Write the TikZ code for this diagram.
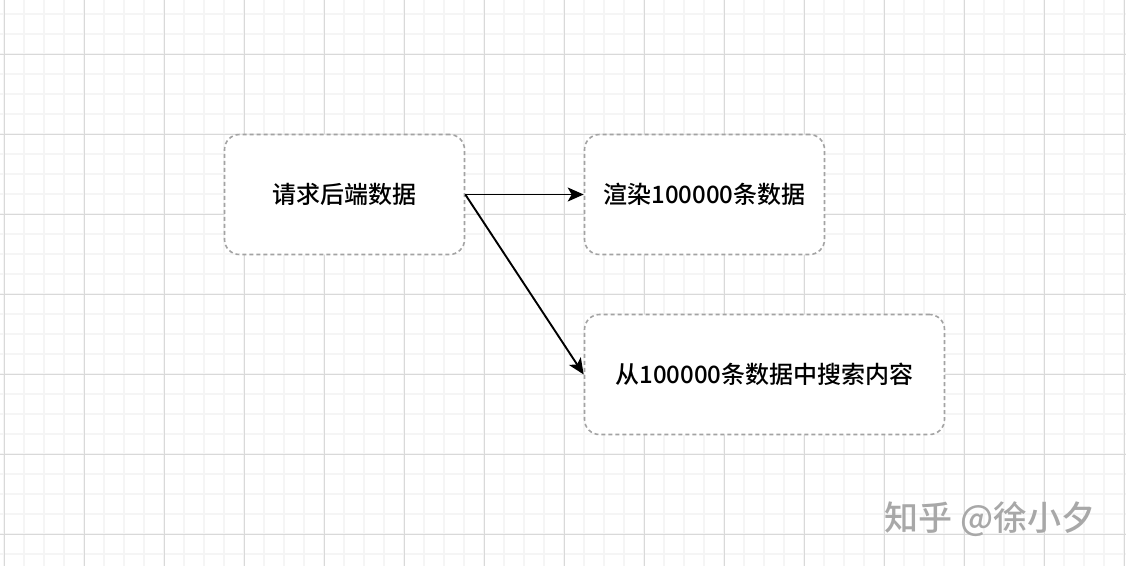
\documentclass[tikz,border=0pt]{standalone}
\usepackage{fontspec}
\newfontfamily\cjk{Noto Sans CJK SC}
\newfontfamily\cjkmid{Noto Sans CJK SC Medium}
\usetikzlibrary{arrows.meta,positioning}
\definecolor{minorgrid}{HTML}{F5F5F5}
\definecolor{majorgrid}{HTML}{D9D9D9}
\definecolor{boxline}{HTML}{A3A3A3}
\definecolor{markgray}{HTML}{A8A8A8}

\begin{document}
\begin{tikzpicture}[x=1pt,y=-1pt]
\tikzstyle{every node}=[font=\cjkmid\fontsize{24}{29}\selectfont]
\tikzstyle{stepbox}=[draw=boxline, dash pattern=on 4pt off 3pt, line width=1.6pt,
  rounded corners=15pt, minimum height=120pt, inner sep=0pt, fill=white]
\tikzstyle{flow}=[-{Stealth[length=16pt,width=14pt,inset=4pt]}, line width=1.9pt]
\useasboundingbox (0,0) rectangle (1126,566);
\fill[white] (0,0) rectangle (1126,566);
% grid
\foreach \x in {4,24,...,1124} \draw[minorgrid, line width=1.5pt] (\x,0) -- (\x,566);
\foreach \y in {14,34,...,554} \draw[minorgrid, line width=1.5pt] (0,\y) -- (1126,\y);
\foreach \x in {4,84,...,1124} \draw[majorgrid] (\x,0) -- (\x,566);
\foreach \y in {54,134,...,534} \draw[majorgrid] (0,\y) -- (1126,\y);
% steps
\node[stepbox, minimum width=240pt] (fetch) at (344.5,194.5) {请求后端数据};
\node[stepbox, minimum width=240pt] (render) at (704.5,194.5) {渲染100000条数据};
\node[stepbox, minimum width=360pt] (search) at (764.5,374.5) {从100000条数据中搜索内容};
\draw[flow] (fetch.east) -- (render.west);
\draw[flow] (fetch.east) -- (search.west);
\node[markgray, font=\cjkmid\fontsize{34}{40}\selectfont] (mark) at (990,519) {知乎 @徐小夕};
\end{tikzpicture}
\end{document}
